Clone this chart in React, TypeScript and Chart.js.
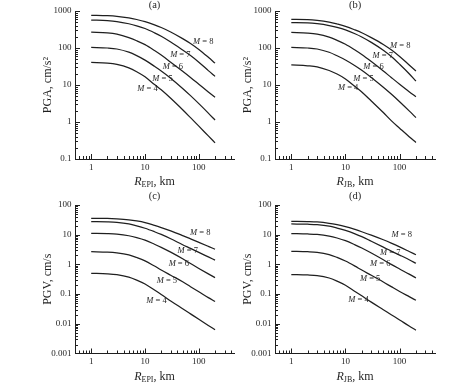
import React, { useEffect, useRef } from 'react';
import { Chart, registerables } from 'chart.js';

Chart.register(...registerables);

// ---------- DATA ----------
const distancesKm = [1, 2, 3, 5, 7, 10, 15, 20, 30, 50, 70, 100, 150, 200];
const magnitudes = ['8', '7', '6', '5', '4'];

// (a) PGA vs R_EPI, cm/s^2
const pgaEpiM8 = [764, 745, 718, 650, 589, 517, 422, 358, 271, 179, 132, 91, 56, 39];
const pgaEpiM7 = [571, 550, 520, 452, 398, 336, 257, 207, 145, 88, 62.6, 41.4, 24.5, 17.1];
const pgaEpiM6 = [270, 256, 236, 191, 157, 123, 85.6, 64.7, 41.5, 23.5, 16, 10.5, 6.5, 4.65];
const pgaEpiM5 = [104, 100, 94, 77, 62, 47, 32, 24, 15.3, 8.06, 5.15, 3.13, 1.74, 1.13];
const pgaEpiM4 = [41, 39, 36, 29, 22.8, 16.6, 10.3, 7.4, 4.37, 2.14, 1.31, 0.773, 0.42, 0.273];

// (b) PGA vs R_JB, cm/s^2
const pgaJbM8 = [596, 588, 560, 500, 445, 385, 308, 258, 191, 125, 89.3, 59.2, 34.9, 24];
const pgaJbM7 = [484, 478, 455, 405, 360, 308, 243, 199, 142, 87, 59, 36.4, 20.2, 12.8];
const pgaJbM6 = [265, 254, 238, 197, 161, 126, 88, 66.6, 42.9, 23.9, 16, 10.5, 6.6, 4.84];
const pgaJbM5 = [104, 100, 94, 76.6, 61.6, 47.4, 33.2, 25, 16, 8.7, 5.7, 3.54, 2.0, 1.31];
const pgaJbM4 = [34.8, 33, 31, 24.6, 19.8, 14.6, 9.1, 6.5, 3.7, 1.8, 1.09, 0.68, 0.4, 0.28];

// (c) PGV vs R_EPI, cm/s
const pgvEpiM8 = [35.6, 35.3, 34.2, 31.8, 29.2, 25.7, 20.6, 17.4, 13.5, 9.36, 7.27, 5.53, 4.04, 3.23];
const pgvEpiM7 = [27.6, 27.0, 26.0, 23, 19.9, 16.5, 12.6, 10.2, 7.3, 4.6, 3.45, 2.53, 1.79, 1.4];
const pgvEpiM6 = [11.1, 10.85, 10.45, 9.22, 7.97, 6.55, 4.78, 3.76, 2.58, 1.54, 1.07, 0.73, 0.48, 0.36];
const pgvEpiM5 = [2.69, 2.6, 2.45, 2.09, 1.71, 1.32, 0.88, 0.65, 0.433, 0.26, 0.178, 0.12, 0.076, 0.056];
const pgvEpiM4 = [0.5, 0.48, 0.45, 0.372, 0.295, 0.218, 0.137, 0.0975, 0.0587, 0.0321, 0.0216, 0.0142, 0.0088, 0.0063];

// (d) PGV vs R_JB, cm/s
const pgvJbM8 = [28.2, 27.6, 26.8, 24.2, 21.7, 18.7, 15, 12.6, 9.7, 6.74, 5.2, 3.88, 2.73, 2.12];
const pgvJbM7 = [23, 22.5, 21.8, 19.4, 16.7, 13.9, 10.7, 8.6, 6.0, 3.8, 2.8, 2.06, 1.44, 1.09];
const pgvJbM6 = [10.9, 10.6, 10.2, 8.97, 7.73, 6.29, 4.56, 3.56, 2.41, 1.43, 1.0, 0.7, 0.47, 0.35];
const pgvJbM5 = [2.77, 2.68, 2.56, 2.15, 1.72, 1.3, 0.875, 0.644, 0.43, 0.255, 0.178, 0.122, 0.082, 0.062];
const pgvJbM4 = [0.454, 0.44, 0.42, 0.348, 0.272, 0.198, 0.123, 0.0873, 0.0537, 0.0299, 0.0203, 0.0135, 0.0084, 0.0061];

// tick labels
const xTickLabels = ['1', '10', '100'];
const pgaTickLabels = ['0.1', '1', '10', '100', '1000'];
const pgvTickLabels = ['0.001', '0.01', '0.1', '1', '10', '100'];

// curve label anchors (data units), order M = 8..4
const labelRa = [120.5, 45.3, 32.9, 21.1, 11.1];
const labelVa = [145, 64.7, 31.3, 14.8, 8.15];
const labelRb = [102.5, 48.7, 32.9, 21.5, 11.2];
const labelVb = [118, 62, 31, 14.8, 8.3];
const labelRc = [106, 62.3, 42.5, 25.5, 16.3];
const labelVc = [12.0, 2.99, 1.03, 0.287, 0.0586];
const labelRd = [109.7, 67, 43.8, 28.6, 17.4];
const labelVd = [9.77, 2.48, 1.03, 0.34, 0.0668];

// ---------- STYLE ----------
const FONT = '"Liberation Serif", "Times New Roman", serif';
const INK = '#1f1f1f';

function labelFor(v: number, labels: string[]) {
  for (const s of labels) {
    const n = parseFloat(s);
    if (Math.abs(n - v) / n < 1e-6) return s;
  }
  return '';
}

function logTickValues(min: number, max: number) {
  const out: { v: number; major: boolean }[] = [];
  const e0 = Math.floor(Math.log10(min)) - 1;
  const e1 = Math.ceil(Math.log10(max)) + 1;
  for (let e = e0; e <= e1; e++) {
    for (let s = 1; s <= 9; s++) {
      const v = s * Math.pow(10, e);
      if (v >= min * (1 - 1e-9) && v <= max * (1 + 1e-9)) out.push({ v, major: s === 1 });
    }
  }
  return out;
}

type PanelCfg = {
  left: number; top: number; w: number; h: number;
  padTop: number; padRight: number; yw: number; xh: number;
  yMin: number; yMax: number; yTicks: string[];
  series: number[][];
  title: string; titleGap: number; yTitle: string; xSub: string;
  labR: number[]; labV: number[];
};

const X_MIN = 0.5;
const X_MAX = 450;

function makeDecor(p: PanelCfg) {
  return {
    id: 'decor',
    afterDraw(chart: any) {
      const ctx = chart.ctx;
      const ca = chart.chartArea;
      const xs = chart.scales.x, ys = chart.scales.y;
      ctx.save();
      // inward tick marks
      ctx.fillStyle = INK;
      for (const t of logTickValues(X_MIN, X_MAX)) {
        const px = Math.round(xs.getPixelForValue(t.v));
        if (px < ca.left + 1.5 || px > ca.right + 0.6) continue;
        const len = t.major ? 5 : 3;
        ctx.fillRect(px, ca.bottom - len, 1, len);
      }
      for (const t of logTickValues(p.yMin, p.yMax)) {
        const py = Math.round(ys.getPixelForValue(t.v));
        if (py > ca.bottom - 1.5) continue;
        const len = t.major ? 5 : 3;
        ctx.fillRect(ca.left, py, len, 1);
      }

      // panel title
      ctx.font = `10.5px ${FONT}`;
      ctx.textAlign = 'center';
      ctx.textBaseline = 'middle';
      ctx.fillText(p.title, (ca.left + ca.right) / 2, ca.top - p.titleGap);

      // y title
      ctx.save();
      ctx.translate(ca.left - 27.5, (ca.top + ca.bottom) / 2);
      ctx.rotate(-Math.PI / 2);
      ctx.font = `12px ${FONT}`;
      ctx.fillText(p.yTitle, 0, 0);
      ctx.restore();

      // x title: R with subscript, km
      const cx = (ca.left + ca.right) / 2;
      const cy = ca.bottom + 23;
      ctx.textAlign = 'left';
      ctx.font = `italic 12px ${FONT}`;
      const wR = ctx.measureText('R').width;
      ctx.font = `8px ${FONT}`;
      const wS = ctx.measureText(p.xSub).width;
      ctx.font = `12px ${FONT}`;
      const wK = ctx.measureText(', km').width;
      let x0 = cx - (wR + wS + wK) / 2;
      ctx.font = `italic 12px ${FONT}`;
      ctx.fillText('R', x0, cy);
      x0 += wR;
      ctx.font = `8px ${FONT}`;
      ctx.fillText(p.xSub, x0, cy + 3);
      x0 += wS;
      ctx.font = `12px ${FONT}`;
      ctx.fillText(', km', x0, cy);

      // curve labels
      for (let i = 0; i < magnitudes.length; i++) {
        const lx = xs.getPixelForValue(p.labR[i]);
        const ly = ys.getPixelForValue(p.labV[i]);
        const rest = ' = ' + magnitudes[i];
        ctx.font = `italic 8.5px ${FONT}`;
        const wm = ctx.measureText('M').width;
        ctx.font = `8.5px ${FONT}`;
        const wr = ctx.measureText(rest).width;
        let sx = lx - (wm + wr) / 2;
        ctx.font = `italic 8.5px ${FONT}`;
        ctx.fillText('M', sx, ly);
        sx += wm;
        ctx.font = `8.5px ${FONT}`;
        ctx.fillText(rest, sx, ly);
      }
      ctx.restore();
    },
  };
}

function buildConfig(p: PanelCfg): any {
  return {
    type: 'line',
    data: {
      datasets: p.series.map((vals, i) => ({
        label: 'M = ' + magnitudes[i],
        data: distancesKm.map((r, j) => ({ x: r, y: vals[j] })),
        borderColor: INK,
        borderWidth: 1.25,
        pointRadius: 0,
        fill: false,
        cubicInterpolationMode: 'monotone',
      })),
    },
    options: {
      animation: false,
      responsive: false,
      events: [],
      layout: { padding: { left: 0, top: p.padTop, right: p.padRight, bottom: 0 } },
      plugins: { legend: { display: false }, tooltip: { enabled: false } },
      scales: {
        x: {
          type: 'logarithmic',
          min: X_MIN,
          max: X_MAX,
          grid: { display: false, drawTicks: false },
          border: { display: true, color: INK, width: 1 },
          ticks: {
            autoSkip: false, maxRotation: 0, minRotation: 0, padding: 3, color: INK,
            font: { family: FONT, size: 9 },
            callback: (v: any) => labelFor(Number(v), xTickLabels),
          },
          afterFit: (s: any) => { s.height = p.xh; },
        },
        y: {
          type: 'logarithmic',
          min: p.yMin,
          max: p.yMax,
          grid: { display: false, drawTicks: false },
          border: { display: true, color: INK, width: 1 },
          ticks: {
            autoSkip: false, padding: 3.5, color: INK,
            font: { family: FONT, size: 9 },
            callback: (v: any) => labelFor(Number(v), p.yTicks),
          },
          afterFit: (s: any) => { s.width = p.yw; },
        },
      },
    },
    plugins: [makeDecor(p)],
  };
}

const panels: PanelCfg[] = [
  {
    left: 0, top: 0, w: 237, h: 192, padTop: 11, padRight: 2, yw: 75, xh: 33,
    yMin: 0.1, yMax: 1000, yTicks: pgaTickLabels,
    series: [pgaEpiM8, pgaEpiM7, pgaEpiM6, pgaEpiM5, pgaEpiM4],
    title: '(a)', titleGap: 6, yTitle: 'PGA, cm/s²', xSub: 'EPI', labR: labelRa, labV: labelVa,
  },
  {
    left: 237, top: 0, w: 237, h: 192, padTop: 11, padRight: 39, yw: 38, xh: 33,
    yMin: 0.1, yMax: 1000, yTicks: pgaTickLabels,
    series: [pgaJbM8, pgaJbM7, pgaJbM6, pgaJbM5, pgaJbM4],
    title: '(b)', titleGap: 6, yTitle: 'PGA, cm/s²', xSub: 'JB', labR: labelRb, labV: labelVb,
  },
  {
    left: 0, top: 186, w: 237, h: 201, padTop: 19, padRight: 2, yw: 75, xh: 33.5,
    yMin: 0.001, yMax: 100, yTicks: pgvTickLabels,
    series: [pgvEpiM8, pgvEpiM7, pgvEpiM6, pgvEpiM5, pgvEpiM4],
    title: '(c)', titleGap: 9, yTitle: 'PGV, cm/s', xSub: 'EPI', labR: labelRc, labV: labelVc,
  },
  {
    left: 237, top: 186, w: 237, h: 201, padTop: 19, padRight: 39, yw: 38, xh: 33.5,
    yMin: 0.001, yMax: 100, yTicks: pgvTickLabels,
    series: [pgvJbM8, pgvJbM7, pgvJbM6, pgvJbM5, pgvJbM4],
    title: '(d)', titleGap: 9, yTitle: 'PGV, cm/s', xSub: 'JB', labR: labelRd, labV: labelVd,
  },
];

function Panel({ cfg }: { cfg: PanelCfg }) {
  const ref = useRef<HTMLCanvasElement | null>(null);
  useEffect(() => {
    if (!ref.current) return;
    const chart = new Chart(ref.current, buildConfig(cfg));
    return () => chart.destroy();
  }, [cfg]);
  return (
    <canvas
      ref={ref}
      width={cfg.w}
      height={cfg.h}
      style={{ position: 'absolute', left: cfg.left, top: cfg.top, width: cfg.w, height: cfg.h }}
    />
  );
}

export default function App() {
  return (
    <div style={{ position: 'absolute', left: 0, top: 0, width: 474, height: 387, background: '#fff' }}>
      {panels.map((p, i) => (
        <Panel key={i} cfg={p} />
      ))}
    </div>
  );
}
